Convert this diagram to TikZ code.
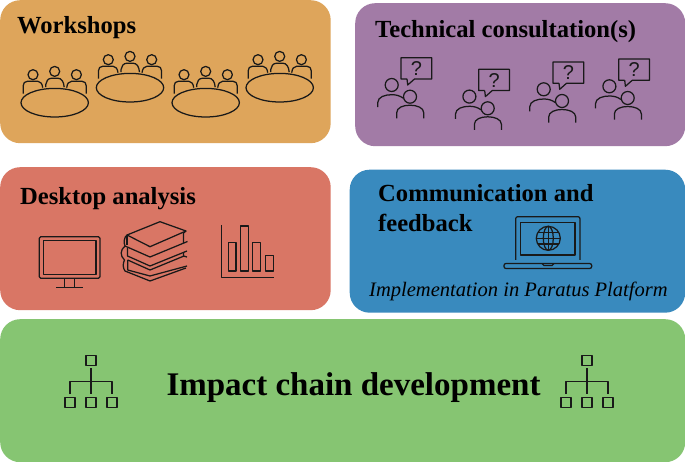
\documentclass[tikz,border=0pt]{standalone}
\usepackage{fontspec}
\setmainfont{Liberation Serif}
\newfontfamily\qfont{Liberation Sans}
\definecolor{co}{HTML}{DEA55B}\definecolor{cp}{HTML}{A27BA6}\definecolor{cr}{HTML}{D97665}\definecolor{cb}{HTML}{398ABE}\definecolor{cg}{HTML}{86C572}
\tikzset{
  x=1pt,y=-1pt,
  panel/.style={draw=none,rounded corners=20pt,minimum height=143pt,anchor=north west,inner sep=0pt},
  ico/.style={draw=black!90,line width=1.25pt,line join=round},
  ttl/.style={font=\fontsize{24.6}{28}\selectfont\bfseries,anchor=base west,inner sep=0pt,text=black}
}
\newcommand{\tableicon}[2]{\begin{scope}[shift={(#1,#2)},ico]
 \draw (0,0) ellipse [x radius=33.7,y radius=14.3];
 \draw (-21.7,-28) circle (5); \draw (0,-31.3) circle (5); \draw (21.7,-28) circle (5);
 \draw (-31.5,-9) -- (-31.5,-17) .. controls (-31.5,-20) and (-30,-21) .. (-27,-21.5) -- (-17,-21.5) .. controls (-14,-21.2) and (-12.5,-19) .. (-12,-15);
 \draw (-9,-15.5) -- (-9,-18) .. controls (-8.5,-21) and (-7,-24.5) .. (-3,-24.5) -- (3,-24.5) .. controls (7,-24.5) and (9,-21) .. (9.5,-15.5);
 \draw (12,-15) .. controls (12.5,-19) and (14,-21.2) .. (17,-21.5) -- (27,-21.5) .. controls (30,-21) and (31.5,-20) .. (31.5,-17) -- (31.5,-9);
\end{scope}}
\newcommand{\consulticon}[2]{\begin{scope}[shift={(#1,#2)},ico]
 \draw (0,0) circle (6.5);
 \draw (-18.3,-11.7) circle (6.5);
 \draw (-13.3,21.7) -- (-13.3,16) .. controls (-13.3,11) and (-7,8.5) .. (0,8.5) .. controls (7,8.5) and (13.7,11) .. (13.7,16) -- (13.7,21.7);
 \draw (-32.3,10.5) -- (-32.3,6) .. controls (-32,0) and (-25,-2) .. (-18,-2) .. controls (-14,-2) and (-10,-1) .. (-6.8,1.5);
 \draw (-3,-17.7) -- (-9,-17.7) -- (-9,-39) -- (21.7,-39) -- (21.7,-17.7) -- (4.5,-17.7) -- (-2.3,-11.7) -- (-3,-17.7);
 \node[font=\qfont\fontsize{20}{20}\selectfont,inner sep=0pt,text=black!90] at (6.5,-28) {?};
\end{scope}}
\newcommand{\treeicon}[2]{\begin{scope}[shift={(#1,#2)},ico]
 \draw (-5,-25.6) rectangle (5,-15.6);
 \draw (0,-13.3) -- (0,12.7);
 \draw (-21,12.7) -- (-21,0) -- (21,0) -- (21,12.7);
 \foreach \a in {-21,0,21}{\draw (\a-5,16) rectangle (\a+5,26.4);}
\end{scope}}
\begin{document}
\begin{tikzpicture}
\useasboundingbox (0,0) rectangle (685,462);
\fill[white] (0,0) rectangle (685,462);
\node[panel,fill=co,minimum width=330.5pt] (workshops) at (0,0) {};
\node[panel,fill=cp,minimum width=330pt] (tech) at (355,3) {};
\node[panel,fill=cr,minimum width=330.5pt] (desk) at (0,167) {};
\node[panel,fill=cb,minimum width=335.5pt] (comm) at (349.5,169.5) {};
\node[panel,fill=cg,minimum width=685pt] (impact) at (0,319) {};
\node[ttl] (t1) at (17,34) {Workshops};
\node[ttl] (t2) at (375,37.5) {Technical consultation(s)};
\node[ttl] (t3) at (20,205) {Desktop analysis};
\node[ttl] (t4) at (378,202) {Communication and};
\node[ttl] (t5) at (378,232) {feedback};
\node[anchor=base west,inner sep=0pt,font=\fontsize{20.55}{24}\selectfont\itshape] (t6) at (369,296) {Implementation in Paratus Platform};
\node[anchor=base,inner sep=0pt,font=\fontsize{33}{36}\selectfont\bfseries] (t7) at (353.5,395) {Impact chain development};
\tableicon{54.7}{102.7}\tableicon{130}{87.7}\tableicon{205.7}{102.7}\tableicon{279.7}{87.7}
\consulticon{410}{96.7}\consulticon{487.7}{108.3}\consulticon{562}{101}\consulticon{627.7}{98}
\begin{scope}[ico]
% monitor
 \draw[rounded corners=1.5pt] (39.3,236.7) rectangle (100,278.3);
 \draw (43.3,240.7) rectangle (96,274.3);
 \draw (64.3,278.3) -- (64.3,287.3) (74.3,278.3) -- (74.3,287.3) (56,287.3) -- (83.3,287.3);
% chart
 \draw (221.7,225) -- (221.7,277.3) -- (273.5,277.3);
 \draw (228.3,242.3) rectangle (236,271);
 \draw (240.7,226) rectangle (248.7,271);
 \draw (252.7,242.3) rectangle (260.7,271);
 \draw (265.3,255.7) rectangle (273.3,271);
% books
 \draw (127,235) -- (160,221.7) -- (186,231) -- (150,246.7) -- cycle;
 \draw (127,235) .. controls (124,237) and (123.5,243) .. (125,246) -- (150,257) -- (187.5,241.5);
 \draw (127,235) -- (127,245);
 \draw (186,231) -- (183.5,233) -- (183.5,243);
 \draw (125,246) .. controls (120,250) and (120,256) .. (124.5,260) .. controls (122.5,264) and (123,268) .. (125,271) -- (150,281) -- (186,268);
 \draw (127.5,248) -- (127.5,256) -- (150,266) -- (187,251);
 \draw (183.5,253) -- (183.5,256) -- (187,257);
 \draw (127.7,260) -- (127.7,270) -- (150,276) -- (187,266);
 \draw (127.7,260) -- (150,270) -- (184,256);
% laptop
 \draw[rounded corners=2pt] (515.7,260) -- (515.7,216.7) -- (580,216.7) -- (580,260);
 \draw (520.7,222.3) rectangle (575,255);
 \draw[rounded corners=2pt] (504,263.5) rectangle (591.7,268.5);
 \draw (542,263.5) -- (544,265.5) -- (552,265.5) -- (554,263.5);
 \draw (548.3,238.3) circle (12);
 \draw (548.3,238.3) ellipse [x radius=5,y radius=12];
 \draw (536.3,238.3) -- (560.3,238.3) (538,232.5) -- (558.6,232.5) (538,244) -- (558.6,244) (548.3,226.3) -- (548.3,250.3);
\end{scope}
\treeicon{91}{381.3}\treeicon{587}{381.3}
\end{tikzpicture}
\end{document}
